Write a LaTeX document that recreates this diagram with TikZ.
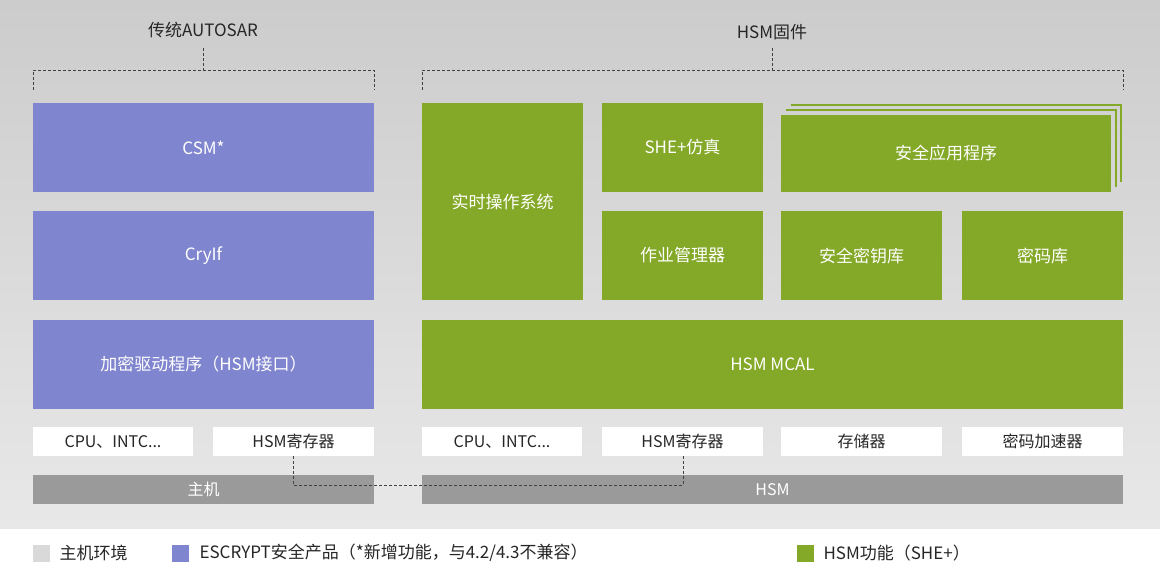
\documentclass[tikz,border=0pt]{standalone}
\usepackage{fontspec}
\setmainfont{Noto Sans CJK SC}
\begin{document}
\begin{tikzpicture}[x=1pt,y=-1pt,
  pbox/.style={fill=purp,draw=none,text=white,font=\fontsize{17}{20}\selectfont},
  gbox/.style={fill=grn,draw=none,text=white,font=\fontsize{17}{20}\selectfont},
  wbox/.style={fill=white,draw=none,text=black!85,font=\fontsize{16}{19}\selectfont},
  dbar/.style={fill=gray!80!black!50,draw=none,text=white,font=\fontsize{16}{19}\selectfont},
  dl/.style={densely dashed,black!75,line width=0.9pt},
  lg/.style={font=\fontsize{17}{20}\selectfont,text=black!85,anchor=west}]
\definecolor{purp}{HTML}{8085CF}
\definecolor{grn}{HTML}{84A827}
\definecolor{barg}{HTML}{9A9A9A}
\useasboundingbox (0,0) rectangle (1160,573);
\fill[white] (0,0) rectangle (1160,573);
\shade[top color={rgb,255:red,204;green,204;blue,204},bottom color={rgb,255:red,232;green,232;blue,232}] (0,0) rectangle (1160,528);
\def\bx#1#2#3#4#5#6#7{\node[#2,minimum width=#5-#3,minimum height=#6-#4,inner sep=0pt] (#1) at ({(#3+#5)/2},{(#4+#6)/2}) {#7};}
% left column
\bx{csm}{pbox}{33}{103}{374}{192}{CSM*}
\bx{cryif}{pbox}{33}{211}{374}{300}{CryIf}
\bx{drv}{pbox}{33}{320}{374}{409}{加密驱动程序（HSM接口）}
% right
\bx{rtos}{gbox}{422}{103}{583}{300}{实时操作系统}
\bx{she}{gbox}{602}{103}{763}{192}{SHE+仿真}
\draw[grn,line width=2.5pt] (791,105)--(1121,105)--(1121,182);
\draw[grn,line width=2.5pt] (786,110)--(1116,110)--(1116,187);
\bx{app}{gbox}{781}{115}{1111}{192}{安全应用程序}
\bx{job}{gbox}{602}{211}{763}{300}{作业管理器}
\bx{key}{gbox}{781}{211}{942}{300}{安全密钥库}
\bx{lib}{gbox}{962}{211}{1123}{300}{密码库}
\bx{mcal}{gbox}{422}{320}{1123}{409}{HSM MCAL}
% white boxes
\bx{cpu1}{wbox}{33}{427}{193}{456}{CPU、INTC...}
\bx{reg1}{wbox}{213}{427}{374}{456}{HSM寄存器}
\bx{cpu2}{wbox}{422}{427}{582}{456}{CPU、INTC...}
\bx{reg2}{wbox}{602}{427}{763}{456}{HSM寄存器}
\bx{mem}{wbox}{781}{427}{942}{456}{存储器}
\bx{acc}{wbox}{962}{427}{1123}{456}{密码加速器}
% bars
\bx{host}{dbar,fill=barg}{33}{475}{374}{504}{主机}
\bx{hsm}{dbar,fill=barg}{422}{475}{1123}{504}{HSM}
% dashed connector
\coordinate (c1) at (293,485);
\coordinate (c2) at (683,485);
\draw[dl] (reg1.south -| c1) -- (c1) -- (c2) -- (reg2.south -| c2);
% brackets
\node[font=\fontsize{17}{20}\selectfont,text=black!85] (t1) at (203,30) {传统AUTOSAR};
\node[font=\fontsize{17}{20}\selectfont,text=black!85] (t2) at (772,32) {HSM固件};
\draw[dl] (33,90)--(33,70)--(374,70)--(374,90);
\draw[dl] (203,48)--(203,70);
\draw[dl] (422,90)--(422,70)--(1123,70)--(1123,90);
\draw[dl] (772,48)--(772,70);
% legend
\fill[black!15] (33,545) rectangle (50,562);
\fill[purp] (172,545) rectangle (189,562);
\fill[grn] (797,545) rectangle (814,562);
\node[lg] (l1) at (56,553) {主机环境};
\node[lg] (l2) at (196,553) {ESCRYPT安全产品（*新增功能，与4.2/4.3不兼容）};
\node[lg] (l3) at (820,553) {HSM功能（SHE+）};
\end{tikzpicture}
\end{document}
